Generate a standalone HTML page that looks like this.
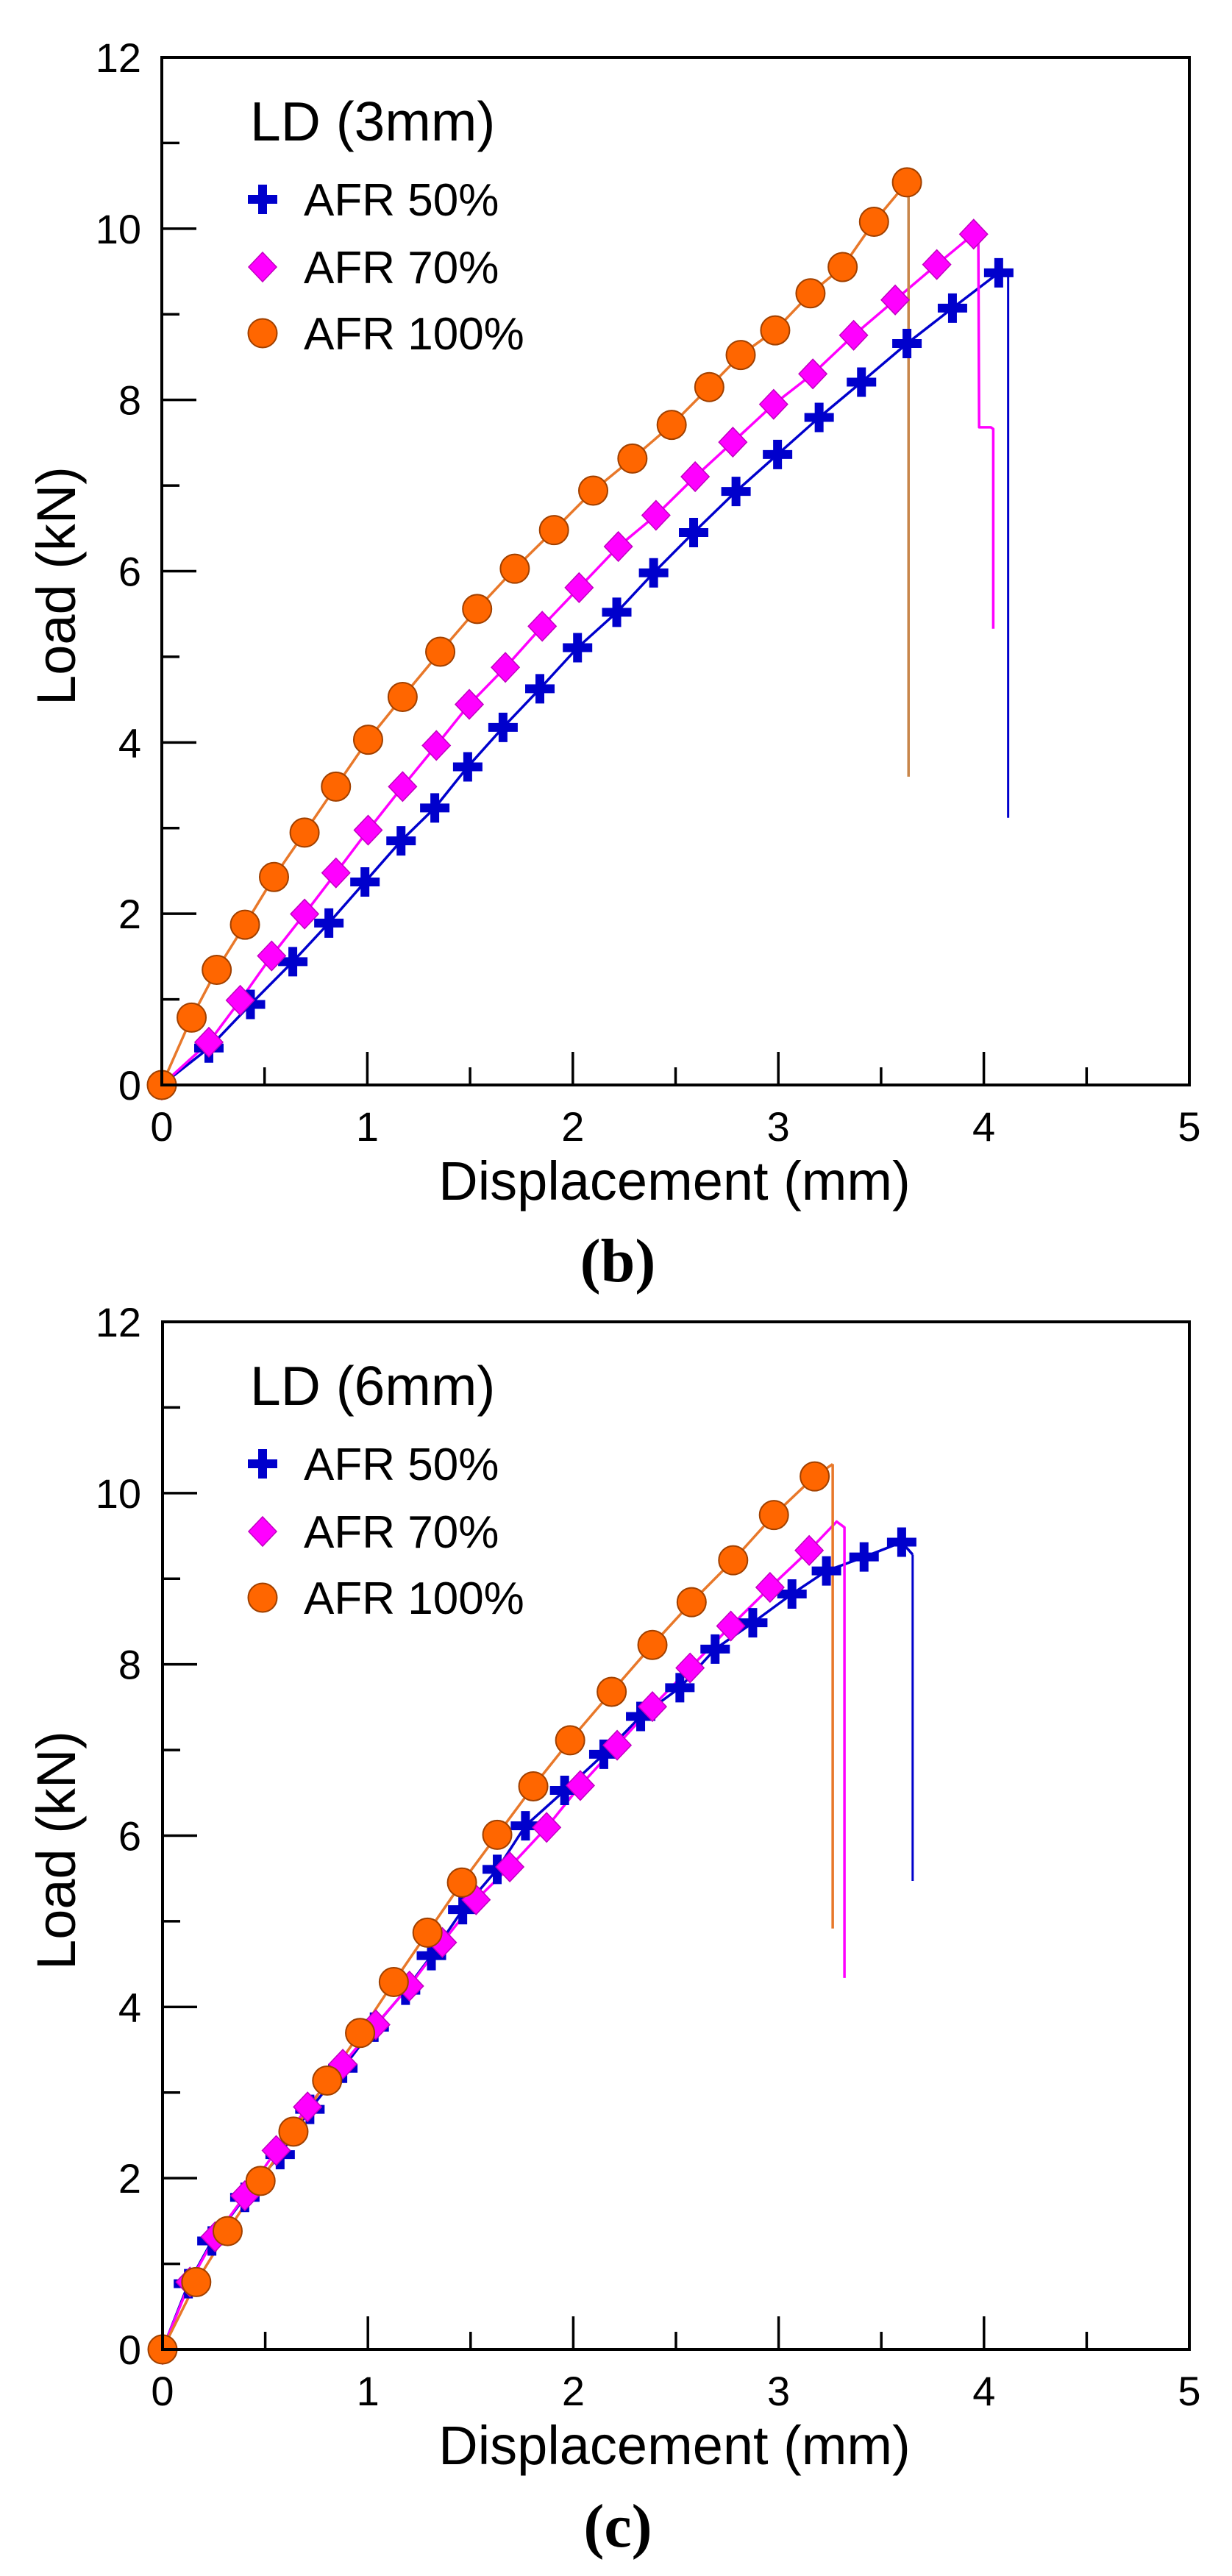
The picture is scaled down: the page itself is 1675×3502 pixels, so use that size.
<!DOCTYPE html>
<html><head><meta charset="utf-8">
<style>
html,body{margin:0;padding:0;background:#fff;}
svg{display:block;}
text{font-family:"Liberation Sans",Arial,sans-serif;fill:#000;}
</style></head>
<body>
<svg id="s" width="1675" height="3502" viewBox="0 0 1675 3502" xmlns="http://www.w3.org/2000/svg">
<rect width="1675" height="3502" fill="#fff"/>
</svg>
<script>
var NS="http://www.w3.org/2000/svg",S=document.getElementById('s');
function el(t,a,p){var e=document.createElementNS(NS,t);for(var k in a)e.setAttribute(k,a[k]);(p||S).appendChild(e);return e;}
function txt(x,y,s,a){var e=el('text',Object.assign({x:x,y:y},a||{}));e.textContent=s;return e;}
var BLUE="#0000CC",MAG="#FF00FF",OR="#FF6600",ORL="#E8782A";
function plus(x,y,c){el('path',{d:'M'+(x-20)+' '+y+'H'+(x+20)+'M'+x+' '+(y-20)+'V'+(y+20),stroke:c||BLUE,'stroke-width':12,fill:'none'});}
function dia(x,y){el('path',{d:'M'+x+' '+(y-20)+'L'+(x+19)+' '+y+'L'+x+' '+(y+20)+'L'+(x-19)+' '+y+'Z',fill:MAG,stroke:'#C000C0','stroke-width':1.5});}
function circ(x,y){el('circle',{cx:x,cy:y,r:19.5,fill:OR,stroke:'#A04000','stroke-width':2});}
function poly(pts,c,w){el('polyline',{points:pts.map(function(p){return p[0].toFixed(1)+','+p[1].toFixed(1);}).join(' '),fill:'none',stroke:c,'stroke-width':w||3.5,'stroke-linejoin':'round'});}

function panel(o){
  var X0=o.x0,X1=1617,Y0=o.y0,Y1=o.y1,sx=(X1-X0)/5,sy=(Y1-Y0)/12;
  function cv(p){var d=(p[0]-205)/262,L=(o.zb-p[1])/o.zk;return [X0+d*sx,Y1-L*sy];}
  function cvy(yz){return Y1-((o.zb-yz)/o.zk)*sy;}
  function cvx(xz){return X0+((xz-205)/262)*sx;}
  var s=o.series;
  var b=s.blue.map(cv);poly([[X0,Y1]].concat(b).concat([[cvx(s.blueEnd[0]),cvy(s.blueEnd[1])]]),BLUE,3.5);
  el('line',{x1:cvx(s.blueDrop[0]),y1:cvy(s.blueDrop[1]),x2:cvx(s.blueDrop[0]),y2:cvy(s.blueDrop[2]),stroke:BLUE,'stroke-width':3});
  var m=s.mag.map(cv);poly(m.concat(s.magTail.map(cv)),MAG,3.5);
  var r=s.or.map(cv);poly(r.concat(s.orTail.map(cv)),ORL,3.5);
  el('line',{x1:cvx(s.orDrop[0]),y1:cvy(s.orDrop[1]),x2:cvx(s.orDrop[0]),y2:cvy(s.orDrop[2]),stroke:s.orDropC,'stroke-width':3.5});
  b.forEach(function(p){plus(p[0],p[1]);});
  m.forEach(function(p){dia(p[0],p[1]);});
  r.forEach(function(p){circ(p[0],p[1]);});
  el('path',{d:'M'+X0+' '+Y0+'H'+X1+'V'+Y1+'H'+X0+'Z',fill:'none',stroke:'#000','stroke-width':4});
  for(var i=0;i<=12;i++){var y=Y1-i*sy,len=(i%2==0)?47:24;
    if(i>0&&i<12)el('line',{x1:X0,y1:y,x2:X0+len,y2:y,stroke:'#000','stroke-width':3.5});
    if(i%2==0)txt(192,y+20,String(i),{'font-size':56,'text-anchor':'end'});}
  for(var j=0;j<=10;j++){var x=X0+j*sx/2,len2=(j%2==0)?45:24;
    if(j>0&&j<10)el('line',{x1:x,y1:Y1,x2:x,y2:Y1-len2,stroke:'#000','stroke-width':3.5});
    if(j%2==0)txt(x,Y1+76,String(j/2),{'font-size':56,'text-anchor':'middle'});}
  txt(917,Y1+156,'Displacement (mm)',{'font-size':74,'text-anchor':'middle'});
  var cy=(Y0+Y1)/2+20;
  txt(0,0,'Load (kN)',{'font-size':74,'text-anchor':'middle',transform:'translate(102,'+cy+') rotate(-90)'});
  txt(340,Y0+113,o.title,{'font-size':75});
  plus(357,Y0+193);txt(413,Y0+215,'AFR 50%',{'font-size':62});
  dia(357,Y0+285);txt(413,Y0+307,'AFR 70%',{'font-size':62});
  circ(357,Y0+375);txt(413,Y0+397,'AFR 100%',{'font-size':62});
  txt(840,o.lab[1],o.lab[0],{'font-size':84,'text-anchor':'middle','font-weight':'bold',style:'font-family:"Liberation Serif",serif'});
}
panel({x0:220,y0:78,y1:1475,zb:1320,zk:104.17,title:'LD (3mm)',lab:['(b)',1742],
series:{
 or:[[205,1320],[243,1238],[275,1180],[311,1125],[348,1067],[387,1013],[427,957],[468,900],[512,848],[560,793],[607,741],[655,692],[705,645],[755,597],[805,558],[855,517],[903,471],[943,432],[987,402],[1032,357],[1073,325],[1113,270],[1155,222]],
 orTail:[[1157,222]],orDrop:[1157,222,945],orDropC:'#C8864A',
 mag:[[205,1320],[265,1268],[305,1217],[345,1163],[387,1112],[427,1062],[468,1010],[512,957],[555,907],[597,857],[643,812],[690,762],[737,715],[787,665],[835,627],[885,580],[933,538],[985,492],[1035,455],[1087,408],[1140,365],[1193,322],[1240,285]],
 magTail:[[1246,288],[1247,520],[1262,520],[1265,522],[1265,765]],
 blue:[[265,1275],[318,1222],[372,1170],[418,1123],[464,1073],[510,1023],[553,983],[595,933],[640,885],[687,838],[735,788],[785,745],[832,697],[883,648],[937,598],[990,553],[1043,508],[1097,465],[1155,418],[1213,375],[1272,332]],
 blueEnd:[1284,332],blueDrop:[1284,332,995]
}});
panel({x0:221,y0:1797,y1:3194,zb:1292,zk:104.17,title:'LD (6mm)',lab:['(c)',3462],
series:{
 or:[[205,1292],[248,1210],[288,1148],[330,1087],[372,1027],[415,965],[457,907],[500,845],[543,785],[587,724],[632,666],[678,607],[725,551],[778,492],[830,435],[880,383],[933,332],[985,277],[1037,230]],
 orTail:[[1060,215]],orDrop:[1060,215,780],orDropC:ORL,
 mag:[[205,1292],[240,1210],[272,1155],[310,1105],[350,1050],[390,997],[435,945],[477,897],[520,850],[562,797],[605,745],[648,705],[695,657],[738,606],[785,557],[830,510],[878,463],[930,412],[980,365],[1030,320]],
 magTail:[[1065,285],[1075,292],[1075,840]],
 blue:[[238,1212],[268,1160],[310,1107],[355,1055],[393,1000],[435,950],[475,900],[515,855],[548,813],[588,757],[632,708],[668,655],[718,612],[768,568],[815,522],[865,487],[910,440],[958,408],[1008,373],[1052,345],[1100,328],[1148,310]],
 blueEnd:[1162,325],blueDrop:[1162,325,722]
}});
</script>
</body></html>
